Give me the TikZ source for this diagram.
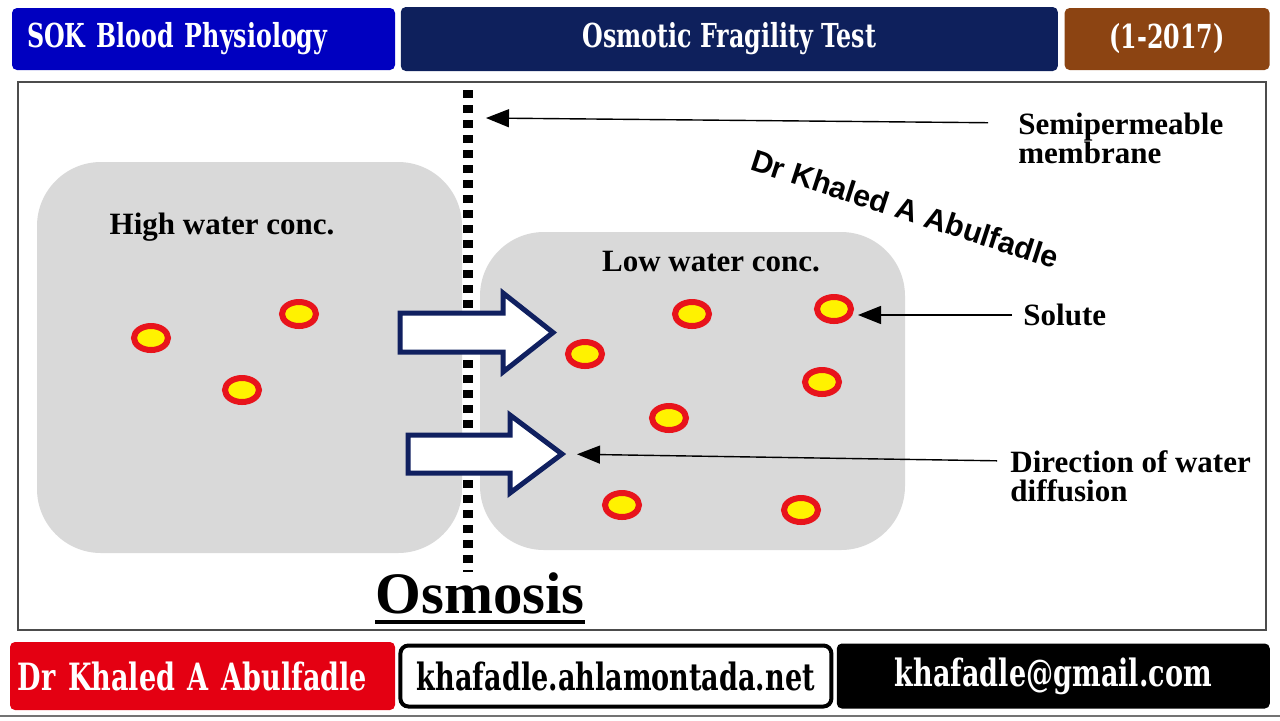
\documentclass[tikz,border=0pt]{standalone}
\usepackage{fontspec}
\setmainfont{Liberation Serif}
\newfontfamily\slabfont{DejaVu Serif}[FakeStretch=0.72]
\newfontfamily\markfont{Liberation Sans}
\usetikzlibrary{positioning,arrows.meta,shapes.geometric}

\definecolor{hdrblue}{RGB}{0,0,192}
\definecolor{hdrnavy}{RGB}{14,32,92}
\definecolor{hdrbrown}{RGB}{140,68,18}
\definecolor{ftrred}{RGB}{228,0,18}
\definecolor{blobgray}{RGB}{217,217,217}
\definecolor{arrownavy}{RGB}{16,32,96}
\definecolor{solred}{RGB}{232,20,28}
\definecolor{solyellow}{RGB}{255,242,0}

\begin{document}
\begin{tikzpicture}[
    x=0.5pt, y=-0.5pt,
    bar/.style={rounded corners=2.5pt, inner sep=0pt, text=white,
                font=\slabfont\bfseries\fontsize{16.5}{20}\selectfont},
    ftr/.style={bar, font=\slabfont\bfseries\fontsize{18.8}{20}\selectfont},
    lbl/.style={font=\bfseries\fontsize{15.5}{14.5}\selectfont, align=left, inner sep=0pt},
    solute/.style={ellipse, draw=solred, fill=solyellow, line width=3pt,
                   minimum width=17pt, minimum height=12pt, inner sep=0pt},
    membrane/.style={line width=5pt, dash pattern=on 4pt off 3.5pt},
    flow/.style={draw=arrownavy, fill=white, line width=2.5pt, line join=miter},
    pointer/.style={-{Triangle[length=11.5pt,width=9pt]}, line width=0.7pt},
]
\useasboundingbox (0,0) rectangle (1280,720);

% header
\node[bar, fill=hdrblue, minimum height=31pt, text width=176.5pt, align=left, inner xsep=7.5pt]
    (course) at (203.5,39) {SOK Blood Physiology};
\node[bar, fill=hdrnavy, minimum width=328.5pt, minimum height=32pt, right=2.5pt of course]
    (title) {Osmotic Fragility Test};
\node[bar, fill=hdrbrown, minimum width=102.5pt, minimum height=31pt, right=3pt of title]
    (date) {(1-2017)};

% slide frame
\draw[black!70, line width=0.7pt] (18,82) rectangle (1266,630);

% compartments
\fill[blobgray, rounded corners=32pt] (37,162) rectangle (462,553);
\fill[blobgray, rounded corners=32pt] (480,232) rectangle (905,550);
\draw[membrane] (468,90) coordinate (memtop) -- (468,572) coordinate (membot);

\node[lbl] (high) at (222,227) {High water conc.};
\node[lbl] (low) at (711,262) {Low water conc.};

% solute particles
\foreach \n/\x/\y in {l1/151/338, l2/299/314, l3/242/390,
                      r1/692/314, r2/834/309, r3/585/354, r4/822/382,
                      r5/669/418, r6/622/505, r7/801/510}
    \node[solute] (\n) at (\x,\y) {};

% water flow
\draw[flow] (400,313) -- (503,313) -- (503,293) -- (553,332.5) coordinate (tipA)
    -- (503,372) -- (503,352) -- (400,352) -- cycle;
\draw[flow] (408,435) -- (510,435) -- (510,415) -- (562,454) coordinate (tipB)
    -- (510,493) -- (510,473) -- (408,473) -- cycle;

% annotations
\node[lbl, anchor=west] (semi) at (1018,138) {Semipermeable\\membrane};
\node[lbl, anchor=west] (solutelbl) at (1023,315) {Solute};
\node[lbl, anchor=west] (dir) at (1010,476) {Direction of water\\diffusion};
\coordinate (memmark) at (486,118);
\draw[pointer, shorten <=15pt] ([yshift=7.5pt]semi.west) -- (memmark);
\draw[pointer, shorten <=5.5pt, shorten >=2pt] (solutelbl.west) -- (solutelbl.west -| r2.east);
\draw[pointer, shorten <=6.5pt, shorten >=7.5pt] ([yshift=7.5pt]dir.west) -- (tipB);

\node[font=\markfont\bfseries\fontsize{15.2}{18}\selectfont, rotate=-18, inner sep=0pt]
    (mark) at (905,209) {Dr Khaled A Abulfadle};

\node[font=\bfseries\fontsize{29.4}{30}\selectfont, inner sep=0pt] (osmosis) at (480,593) {Osmosis};
\draw[line width=2pt] ([yshift=-4pt]osmosis.south west) -- ([yshift=-4pt]osmosis.south east);

% footer
\node[ftr, fill=ftrred, minimum height=34pt, text width=184.5pt, align=left, inner xsep=4pt]
    (author) at (202.5,676) {Dr Khaled A Abulfadle};
\node[ftr, fill=white, draw=black, line width=2pt, rounded corners=4pt, text=black,
      minimum width=215.5pt, minimum height=30.5pt, right=1.5pt of author]
    (site) {khafadle.ahlamontada.net};
\node[ftr, fill=black, minimum width=216.5pt, minimum height=32.5pt, right=1.5pt of site]
    (mail) {khafadle@gmail.com};
\draw[black!55, line width=0.6pt] (0,716) -- (1280,716);
\end{tikzpicture}
\end{document}
